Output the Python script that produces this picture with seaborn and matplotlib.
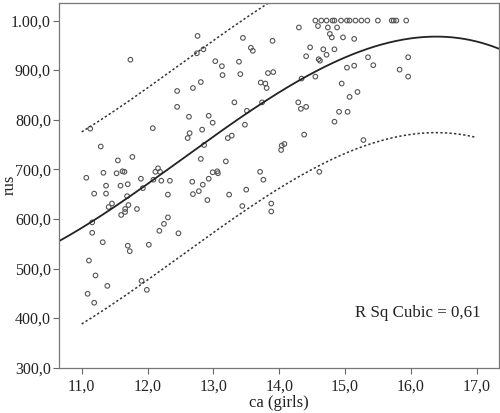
import numpy as np
import pandas as pd
import matplotlib
matplotlib.use("Agg")
import matplotlib.pyplot as plt
import seaborn as sns

# values
ca_girls = [
    12.76, 12.75, 12.85, 11.74, 13.45, 13.57, 13.60, 13.90, 13.03, 13.13,
    13.14, 13.39, 13.41, 13.83, 13.91, 13.72, 13.79, 13.81, 12.81, 12.69,
    12.45, 12.45, 13.32, 13.74, 13.51, 12.63, 12.93, 12.99, 13.48, 12.08,
    11.13, 12.64, 12.61, 12.83, 13.22, 13.28, 12.86, 11.29, 11.77, 11.55,
    12.81, 13.19, 12.16, 12.12, 12.19, 11.65, 11.62, 11.53, 11.33, 12.99,
    13.06, 13.07, 13.71, 11.07, 11.90, 12.09, 12.21, 12.34, 12.68, 12.93,
    13.76, 12.84, 11.37, 11.59, 11.70, 11.93, 12.78, 13.50, 11.19, 11.37,
    11.69, 12.31, 12.69, 13.24, 12.91, 11.46, 11.41, 11.71, 11.84, 11.66,
    11.66, 11.60, 12.31, 13.44, 13.88, 13.88,
    11.16, 11.16, 11.32, 11.70, 11.73, 12.02, 12.18, 12.25, 12.47, 11.11,
    11.21, 11.39, 11.09, 11.19, 11.91, 11.99,
    14.55, 14.64, 14.72, 14.81, 14.84, 14.94, 15.03, 15.07, 15.16, 15.25,
    15.34, 15.50, 15.71, 15.74, 15.78, 15.93,
    14.30, 14.59, 14.74, 14.88, 14.77, 14.80, 14.97, 15.14, 14.47, 14.67,
    14.84, 14.41, 14.60, 14.62, 14.72, 15.35, 15.96, 15.43, 15.03, 15.14,
    15.83, 15.96, 14.55, 14.34, 14.95, 15.07, 15.19, 14.29, 14.33, 14.41,
    14.91, 15.04, 14.84, 14.38, 14.04, 14.08, 14.03, 15.28, 14.61,
]
rus = [
    969, 934, 942, 921, 965, 945, 939, 959, 918, 908,
    890, 917, 892, 894, 896, 875, 873, 864, 876, 864,
    858, 826, 835, 835, 818, 806, 808, 794, 790, 783,
    782, 773, 763, 780, 763, 768, 749, 746, 725, 718,
    721, 716, 702, 695, 695, 695, 696, 692, 693, 694,
    696, 692, 695, 683, 681, 679, 677, 677, 675, 681,
    679, 669, 667, 667, 670, 662, 656, 659, 651, 651,
    646, 649, 650, 649, 638, 631, 624, 628, 620, 620,
    614, 608, 603, 626, 631, 615,
    593, 572, 553, 546, 535, 548, 576, 590, 571, 516,
    486, 465, 449, 431, 475, 457,
    1000, 1000, 1000, 1000, 1000, 1000, 1000, 1000, 1000, 1000,
    1000, 1000, 1000, 1000, 1000, 1000,
    986, 989, 986, 986, 973, 966, 966, 963, 946, 942,
    942, 928, 922, 919, 931, 926, 926, 910, 905, 909,
    901, 887, 887, 883, 873, 846, 856, 835, 822, 826,
    816, 816, 796, 770, 748, 751, 739, 759, 695,
]

x_ticks = [11.0, 12.0, 13.0, 14.0, 15.0, 16.0, 17.0]
x_labels = ["11,0", "12,0", "13,0", "14,0", "15,0", "16,0", "17,0"]
y_ticks = [300, 400, 500, 600, 700, 800, 900, 1000]
y_labels = ["300,0", "400,0", "500,0", "600,0", "700,0", "800,0", "900,0", "1.00,0"]
annotation = "R Sq Cubic = 0,61"

df = pd.DataFrame({"ca": ca_girls, "rus": rus})

sns.set_theme(style="white")
plt.rcParams["font.family"] = ["Liberation Serif", "DejaVu Serif"]

fig = plt.figure(figsize=(5.0, 4.13), dpi=100)
ax = fig.add_axes([0.1186, 0.1097, 0.8794, 0.8838])
ax.set_xlim(10.66, 17.34)
ax.set_ylim(300, 1036)

# cubic fit + 95% band around it
xc = df["ca"].to_numpy() - 13.5
X = np.vander(xc, 4)
beta, *_ = np.linalg.lstsq(X, df["rus"].to_numpy(), rcond=None)
resid = df["rus"].to_numpy() - X @ beta
s = np.sqrt(resid @ resid / (len(df) - 4))
t_crit = 1.976
half = t_crit * s * np.sqrt(1 + 4 / len(df))

grid_full = np.linspace(10.66, 17.34, 300)
fit_full = np.vander(grid_full - 13.5, 4) @ beta
grid_pi = np.linspace(11.0, 17.0, 300)
fit_pi = np.vander(grid_pi - 13.5, 4) @ beta

fit_df = pd.DataFrame({"ca": grid_full, "fit": fit_full})
pi_df = pd.DataFrame({"ca": grid_pi, "lo": fit_pi - half, "hi": fit_pi + half})

sns.lineplot(data=fit_df, x="ca", y="fit", ax=ax, color="#222222", linewidth=1.3)
for col in ["lo", "hi"]:
    sns.lineplot(data=pi_df, x="ca", y=col, ax=ax, color="#333333",
                 linewidth=1.1, linestyle=(0, (1.5, 1.5)))

sns.scatterplot(data=df, x="ca", y="rus", ax=ax, s=11, marker="o",
                facecolor="none", edgecolor="#555555", linewidth=0.8)

ax.text(17.06, 410, annotation, ha="right", va="center", fontsize=12.2,
        color="#222222")

ax.set_xticks(x_ticks)
ax.set_xticklabels(x_labels)
ax.set_yticks(y_ticks)
ax.set_yticklabels(y_labels)
ax.tick_params(axis="both", which="major", direction="out", length=4,
               width=0.8, color="#666666", labelsize=11.5,
               labelcolor="#222222", bottom=True, left=True)
ax.tick_params(axis="x", pad=4)
ax.tick_params(axis="y", pad=2)
for sp in ax.spines.values():
    sp.set_color("#777777")
    sp.set_linewidth(0.9)

ax.set_xlabel("ca (girls)", fontsize=12, color="#222222", labelpad=0)
ax.set_ylabel("rus", fontsize=12, color="#222222")
ax.yaxis.set_label_coords(-0.094, 0.5)
ax.grid(False)

fig.savefig("out.png", dpi=100)
